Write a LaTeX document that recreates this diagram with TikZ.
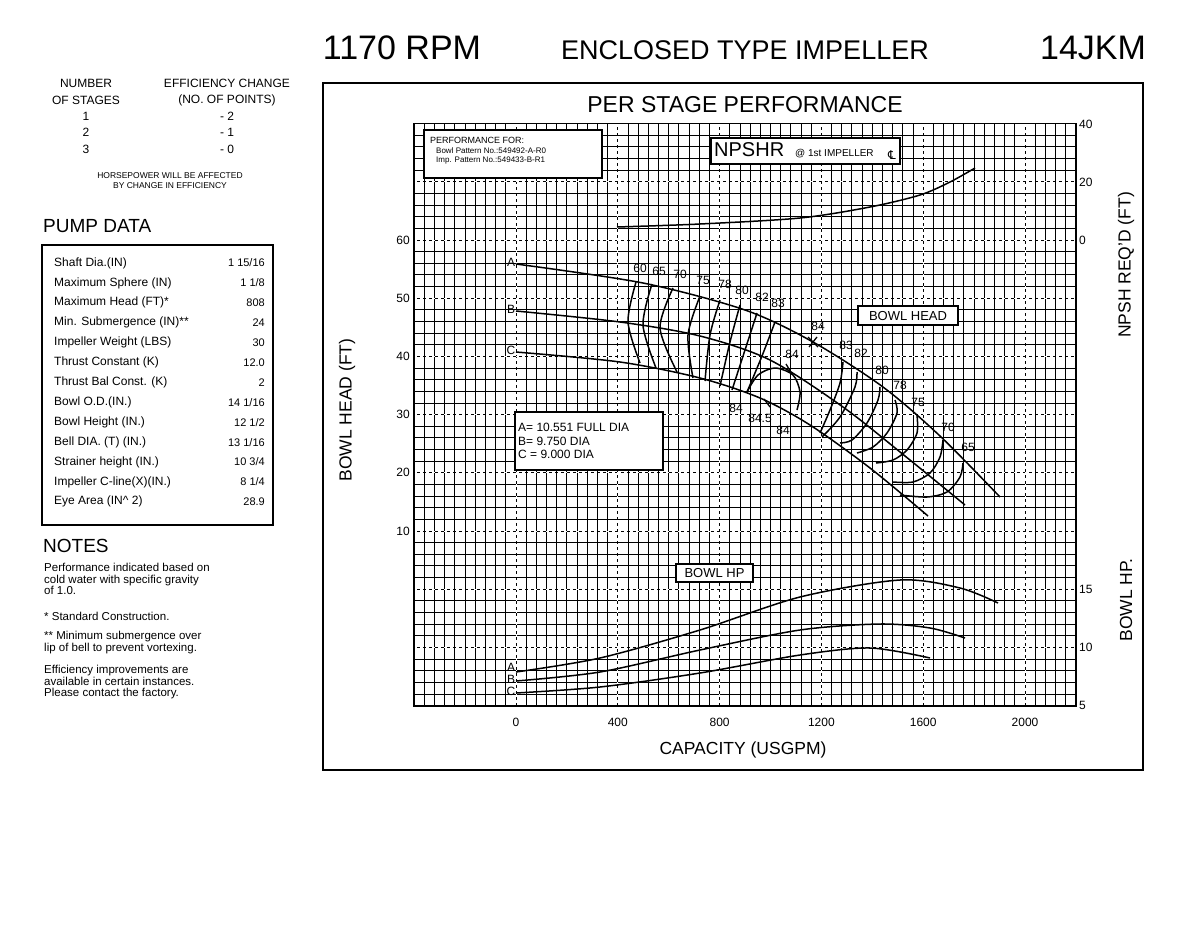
\documentclass[tikz,border=0pt]{standalone}
\usepackage{fontspec}
\setmainfont{Liberation Sans}
\newfontfamily\dvs{DejaVu Sans}
\begin{document}
\begin{tikzpicture}[x=1pt,y=-1pt,
  lbl/.style={inner sep=0pt,font=\fontsize{12}{13}\selectfont},
  sml/.style={inner sep=0pt,font=\fontsize{12}{13}\selectfont},
  tiny/.style={inner sep=0pt,font=\fontsize{8.5}{9}\selectfont},
  crv/.style={line width=1.5pt},
  eff/.style={line width=1.5pt},
  bx/.style={draw,line width=1.2pt,fill=white},
  axl/.style={inner sep=0pt,font=\fontsize{17.5}{19}\selectfont}]
\useasboundingbox (0,0) rectangle (1200,927);
% titles
\node[inner sep=0pt,font=\fontsize{34}{36}\selectfont] (rpm) at (402,48) {1170 RPM};
\node[inner sep=0pt,font=\fontsize{27}{29}\selectfont] (enc) at (745,50) {ENCLOSED TYPE IMPELLER};
\node[inner sep=0pt,font=\fontsize{34}{36}\selectfont] (mod) at (1093,48) {14JKM};
% sidebar
\node[sml] (h1) at (86,83) {NUMBER};
\node[sml] (h2) at (86,100) {OF STAGES};
\node[sml] (h3) at (227,83) {EFFICIENCY CHANGE};
\node[sml] (h4) at (227,100) {(NO. OF POINTS)};
\node[sml] (s1) at (86,116) {1}; \node[sml] (e1) at (227,116) {- 2};
\node[sml] (s2) at (86,132) {2}; \node[sml] (e2) at (227,132) {- 1};
\node[sml] (s3) at (86,149) {3}; \node[sml] (e3) at (227,149) {- 0};
\node[tiny,align=center] (hpn) at (170,181) {HORSEPOWER WILL BE AFFECTED\\[1pt]BY CHANGE IN EFFICIENCY};
\node[anchor=west,inner sep=0pt,font=\fontsize{19}{20}\selectfont] (pd) at (43,226) {PUMP DATA};
\draw[line width=1.2pt] (42,245) rectangle (273,525);
\foreach \t/\v [count=\i from 0] in {Shaft Dia.(IN)/{1 15/16},Maximum Sphere (IN)/{1 1/8},Maximum Head (FT)*/808,Min. Submergence (IN)**/24,Impeller Weight (LBS)/30,Thrust Constant (K)/12.0,Thrust Bal Const. (K)/2,Bowl O.D.(IN.)/{14 1/16},Bowl Height (IN.)/{12 1/2},Bell DIA. (T) (IN.)/{13 1/16},Strainer height (IN.)/{10 3/4},Impeller C-line(X)(IN.)/{8 1/4},Eye Area (IN\^{} 2)/28.9}{
  \node[lbl,anchor=west] (pl\i) at (54,{263+19.9*\i}) {\t};
  \node[lbl,anchor=east,font=\fontsize{11}{12}\selectfont] (pv\i) at (265,{263+19.9*\i}) {\v};
}
\node[anchor=west,inner sep=0pt,font=\fontsize{19}{20}\selectfont] (nt) at (43,546) {NOTES};
\node[lbl,anchor=north west,align=left,font=\fontsize{11.5}{11.5}\selectfont] (n1) at (44,563) {Performance indicated based on\\cold water with specific gravity\\of 1.0.};
\node[lbl,anchor=north west,font=\fontsize{11.5}{11.5}\selectfont] (n2) at (44,612) {* Standard Construction.};
\node[lbl,anchor=north west,align=left,font=\fontsize{11.5}{11.5}\selectfont] (n3) at (44,631) {** Minimum submergence over\\lip of bell to prevent vortexing.};
\node[lbl,anchor=north west,align=left,font=\fontsize{11.5}{11.5}\selectfont] (n4) at (44,665) {Efficiency improvements are\\available in certain instances.\\Please contact the factory.};
% outer frame
\draw[line width=1.2pt] (323,83) rectangle (1143,770);
\node[inner sep=0pt,font=\fontsize{23}{25}\selectfont] (pst) at (745,105) {PER STAGE PERFORMANCE};
% grid
\foreach \k in {-10,...,55}{\draw[line width=0.9pt] ({516+10.18*\k},123.6) -- ({516+10.18*\k},706);}
\foreach \j in {-10,...,40}{\draw[line width=0.9pt] (414,{589.2-11.64*\j}) -- (1076,{589.2-11.64*\j});}
\foreach \k in {-1,...,5}{\draw[white,line width=1pt,dash pattern=on 3pt off 3pt] ({516+101.8*\k},123.6) -- ({516+101.8*\k},706);}
\foreach \j in {-2,...,8}{\draw[white,line width=1pt,dash pattern=on 3pt off 3pt] (414,{589.2-58.2*\j}) -- (1076,{589.2-58.2*\j});}
\draw[line width=1.5pt] (414,123.6) rectangle (1076,706);
% axis tick labels
\foreach \v [count=\i from 0] in {60,50,40,30,20,10}{\node[sml,anchor=east] (ly\i) at (410,{240+58.2*\i}) {\v};}
\foreach \v [count=\i from 0] in {40,20,0}{\node[sml,anchor=west] (ry\i) at (1079,{124+58.2*\i}) {\v};}
\foreach \v [count=\i from 0] in {15,10,5}{\node[sml,anchor=west] (rh\i) at (1079,{589+58.2*\i}) {\v};}
\foreach \v [count=\i from 0] in {0,400,800,1200,1600,2000}{\node[sml] (bx\i) at ({516+101.8*\i},722) {\v};}
\node[axl] (cap) at (743,750) {CAPACITY (USGPM)};
\node[axl,rotate=90] (bh) at (347,410) {BOWL HEAD (FT)};
\node[axl,rotate=90] (np) at (1126,265) {NPSH REQ'D (FT)};
\node[axl,rotate=90] (bhp) at (1126,600) {BOWL HP.};
% boxes
\node[bx,minimum width=178pt,minimum height=48pt] (perf) at (513,154) {};
\node[tiny,anchor=west,font=\fontsize{9}{10}\selectfont] (pf1) at (430,140) {PERFORMANCE FOR:};
\node[tiny,anchor=west,font=\fontsize{8}{9}\selectfont] (pf2) at (436,151) {Bowl Pattern No.:549492-A-R0};
\node[tiny,anchor=west,font=\fontsize{8}{9}\selectfont] (pf3) at (436,161) {Imp. Pattern No.:549433-B-R1};
\node[bx,minimum width=189pt,minimum height=26pt] (npb) at (805.5,151) {};
\node[inner sep=0pt,anchor=west,font=\fontsize{20}{21}\selectfont] (npt) at (714,150) {NPSHR};
\node[tiny,anchor=west,font=\fontsize{10}{11}\selectfont] (npt2) at (795,154) {@ 1st IMPELLER};
\node[inner sep=0pt,font=\dvs\fontsize{12}{13}\selectfont] (cl) at (892,155) {℄};
\node[bx,minimum width=100pt,minimum height=19pt] (bhb) at (908,315.5) {};
\node[lbl,font=\fontsize{13}{14}\selectfont] (bht) at (908,316) {BOWL HEAD};
% NPSH curve
\draw[crv] plot[smooth] coordinates {(617,227) (700,224) (800,218) (870,207) (920,195) (950,182) (975,168)};
% head curves
\draw[crv] plot[smooth] coordinates {(516,264) (643,283) (745,310) (813,342) (883,387) (940,436) (1000,497)};
\draw[crv] plot[smooth] coordinates {(516,311) (620,322) (700,336) (770,360) (843,407) (905,456) (965,505)};
\draw[crv] plot[smooth] coordinates {(516,352) (620,362) (700,378) (760,398) (810,425) (870,468) (928,516)};
\node[sml] (la) at (511,262) {A}; \node[sml] (lb) at (511,309) {B}; \node[sml] (lc) at (511,350) {C};
% left efficiency lines
\draw[eff] plot[smooth] coordinates {(636,282) (628,322) (640,363)};
\draw[eff] plot[smooth] coordinates {(652,284) (643,325) (656,368)};
\draw[eff] plot[smooth] coordinates {(673,288) (660,328) (677,372)};
\draw[eff] plot[smooth] coordinates {(700,296) (688,335) (693,378)};
\draw[eff] plot[smooth] coordinates {(720,300) (710,335) (705,381)};
\draw[eff] plot[smooth] coordinates {(740,305) (730,342) (720,386)};
\draw[eff] plot[smooth] coordinates {(757,313) (745,350) (732,390)};
\draw[eff] plot[smooth] coordinates {(775,322) (762,356) (747,392)};
\foreach \v/\x/\y in {60/640/268,65/659/271,70/680/274,75/703/280,78/725/284,80/742/290,82/762/297,83/778/303}{\node[sml] at (\x,\y) {\v};}
% 84 island
\draw[eff] plot[smooth] coordinates {(747,392) (758,375) (775,368) (793,375) (800,392) (797,410)};
\draw[line width=1.3pt] (808,337) -- (818,347) (809,347) -- (817,337);
\draw[line width=1.3pt] (786,364) -- (792,374);
\draw[line width=1.3pt] (764,399) -- (770,407);
\foreach \v/\x/\y in {84/818/326,84/792/354,84/736/408,84.5/760/418,84/783/430}{\node[sml] at (\x,\y) {\v};}
% right efficiency lines
\draw[eff] plot[smooth] coordinates {(843,362) (840,383) (830,410) (820,433)};
\draw[eff] plot[smooth] coordinates {(857,372) (855,387) (840,417) (822,437)};
\draw[eff] plot[smooth] coordinates {(880,387) (878,400) (867,423) (852,440) (840,443)};
\draw[eff] plot[smooth] coordinates {(895,400) (897,413) (887,433) (873,447) (857,453)};
\draw[eff] plot[smooth] coordinates {(917,415) (917,433) (907,450) (893,460) (876,463)};
\draw[eff] plot[smooth] coordinates {(943,440) (940,457) (930,473) (913,482) (893,482)};
\draw[eff] plot[smooth] coordinates {(963,463) (960,477) (947,492) (927,497) (900,495)};
\foreach \v/\x/\y in {83/846/345,82/861/353,80/882/370,78/900/385,75/918/402,70/948/427,65/968/447}{\node[sml] at (\x,\y) {\v};}
% ABC box
\node[bx,minimum width=148pt,minimum height=58pt] (abc) at (589,441) {};
\node[lbl,anchor=west,align=left,font=\fontsize{12}{13.5}\selectfont] (abct) at (518,441) {A= 10.551 FULL DIA\\B= 9.750 DIA\\C = 9.000 DIA};
% HP curves
\draw[crv] plot[smooth] coordinates {(516,672) (600,658) (700,630) (800,597) (900,580) (960,588) (998,603)};
\draw[crv] plot[smooth] coordinates {(516,681) (600,672) (700,650) (800,630) (880,624) (930,628) (965,638)};
\draw[crv] plot[smooth] coordinates {(516,693) (600,687) (700,673) (800,655) (870,648) (930,658)};
\node[sml] (ha) at (511,667) {A}; \node[sml] (hb) at (511,679) {B}; \node[sml] (hc) at (511,691) {C};
\node[bx,minimum width=77pt,minimum height=18pt] (hpb) at (714.5,573) {};
\node[lbl,font=\fontsize{13}{14}\selectfont] (hpt) at (714.5,573) {BOWL HP};
\end{tikzpicture}
\end{document}
